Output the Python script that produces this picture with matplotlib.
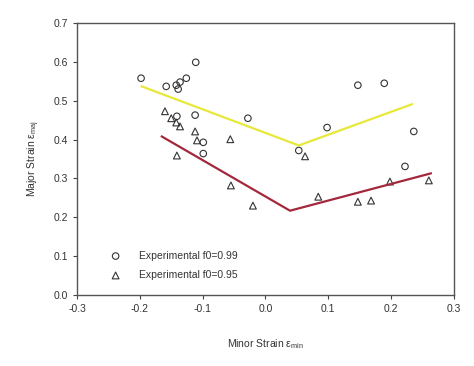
import matplotlib
matplotlib.use("Agg")
import matplotlib.pyplot as plt

plt.rcParams['font.family'] = ['Liberation Sans', 'DejaVu Sans']

# experimental points, f0 = 0.99 (circles)
x99 = [-0.198, -0.158, -0.142, -0.136, -0.126, -0.139, -0.111, -0.141, -0.112,
       -0.028, -0.099, -0.099, 0.098, 0.053, 0.147, 0.189, 0.236, 0.222]
y99 = [0.558, 0.537, 0.540, 0.548, 0.558, 0.530, 0.599, 0.460, 0.463,
       0.455, 0.393, 0.364, 0.431, 0.372, 0.540, 0.545, 0.421, 0.331]

# experimental points, f0 = 0.95 (triangles)
x95 = [-0.160, -0.150, -0.142, -0.136, -0.112, -0.109, -0.056, -0.141,
       -0.055, -0.020, 0.063, 0.084, 0.147, 0.168, 0.198, 0.260]
y95 = [0.473, 0.455, 0.444, 0.434, 0.421, 0.398, 0.401, 0.359,
       0.282, 0.230, 0.357, 0.253, 0.240, 0.243, 0.292, 0.295]

# forming limit curves
flc99_x = [-0.197, 0.053, 0.233]
flc99_y = [0.537, 0.385, 0.491]
flc95_x = [-0.165, 0.039, 0.263]
flc95_y = [0.408, 0.217, 0.313]

fig = plt.figure(figsize=(4.74, 3.66), dpi=100)
ax = fig.add_axes([0.1624, 0.194, 0.7954, 0.743])

ax.plot(flc99_x, flc99_y, color='#e8e83a', lw=1.6)
ax.plot(flc95_x, flc95_y, color='#a3283c', lw=1.6)

ax.scatter(x99, y99, marker='o', s=22, facecolors='none', edgecolors='#333333',
           linewidths=0.8, label='Experimental f0=0.99')
ax.scatter(x95, y95, marker='^', s=24, facecolors='none', edgecolors='#333333',
           linewidths=0.8, label='Experimental f0=0.95')

ax.set_xlim(-0.3, 0.3)
ax.set_ylim(0.0, 0.7)
ax.set_xticks([-0.3, -0.2, -0.1, 0.0, 0.1, 0.2, 0.3])
ax.set_yticks([0.0, 0.1, 0.2, 0.3, 0.4, 0.5, 0.6, 0.7])
ax.xaxis.set_major_formatter(matplotlib.ticker.FormatStrFormatter('%.1f'))
ax.yaxis.set_major_formatter(matplotlib.ticker.FormatStrFormatter('%.1f'))
ax.tick_params(labelsize=7.5, length=3, width=0.8, colors='#444444', labelcolor='#333333')
for s in ax.spines.values():
    s.set_color('#555555')
    s.set_linewidth(1.0)

ax.set_xlabel(r'Minor Strain $\mathregular{\varepsilon_{min}}$', fontsize=7.5, color='#333333', labelpad=17)
ax.set_ylabel(r'Major Strain $\mathregular{\varepsilon_{maj}}$', fontsize=7.5, color='#333333', labelpad=8)

ax.legend(loc='lower left', bbox_to_anchor=(0.05, 0.02), frameon=False, fontsize=7.5,
          handletextpad=1.2, labelspacing=0.9, labelcolor='#333333')

fig.savefig('out.png', dpi=100)
